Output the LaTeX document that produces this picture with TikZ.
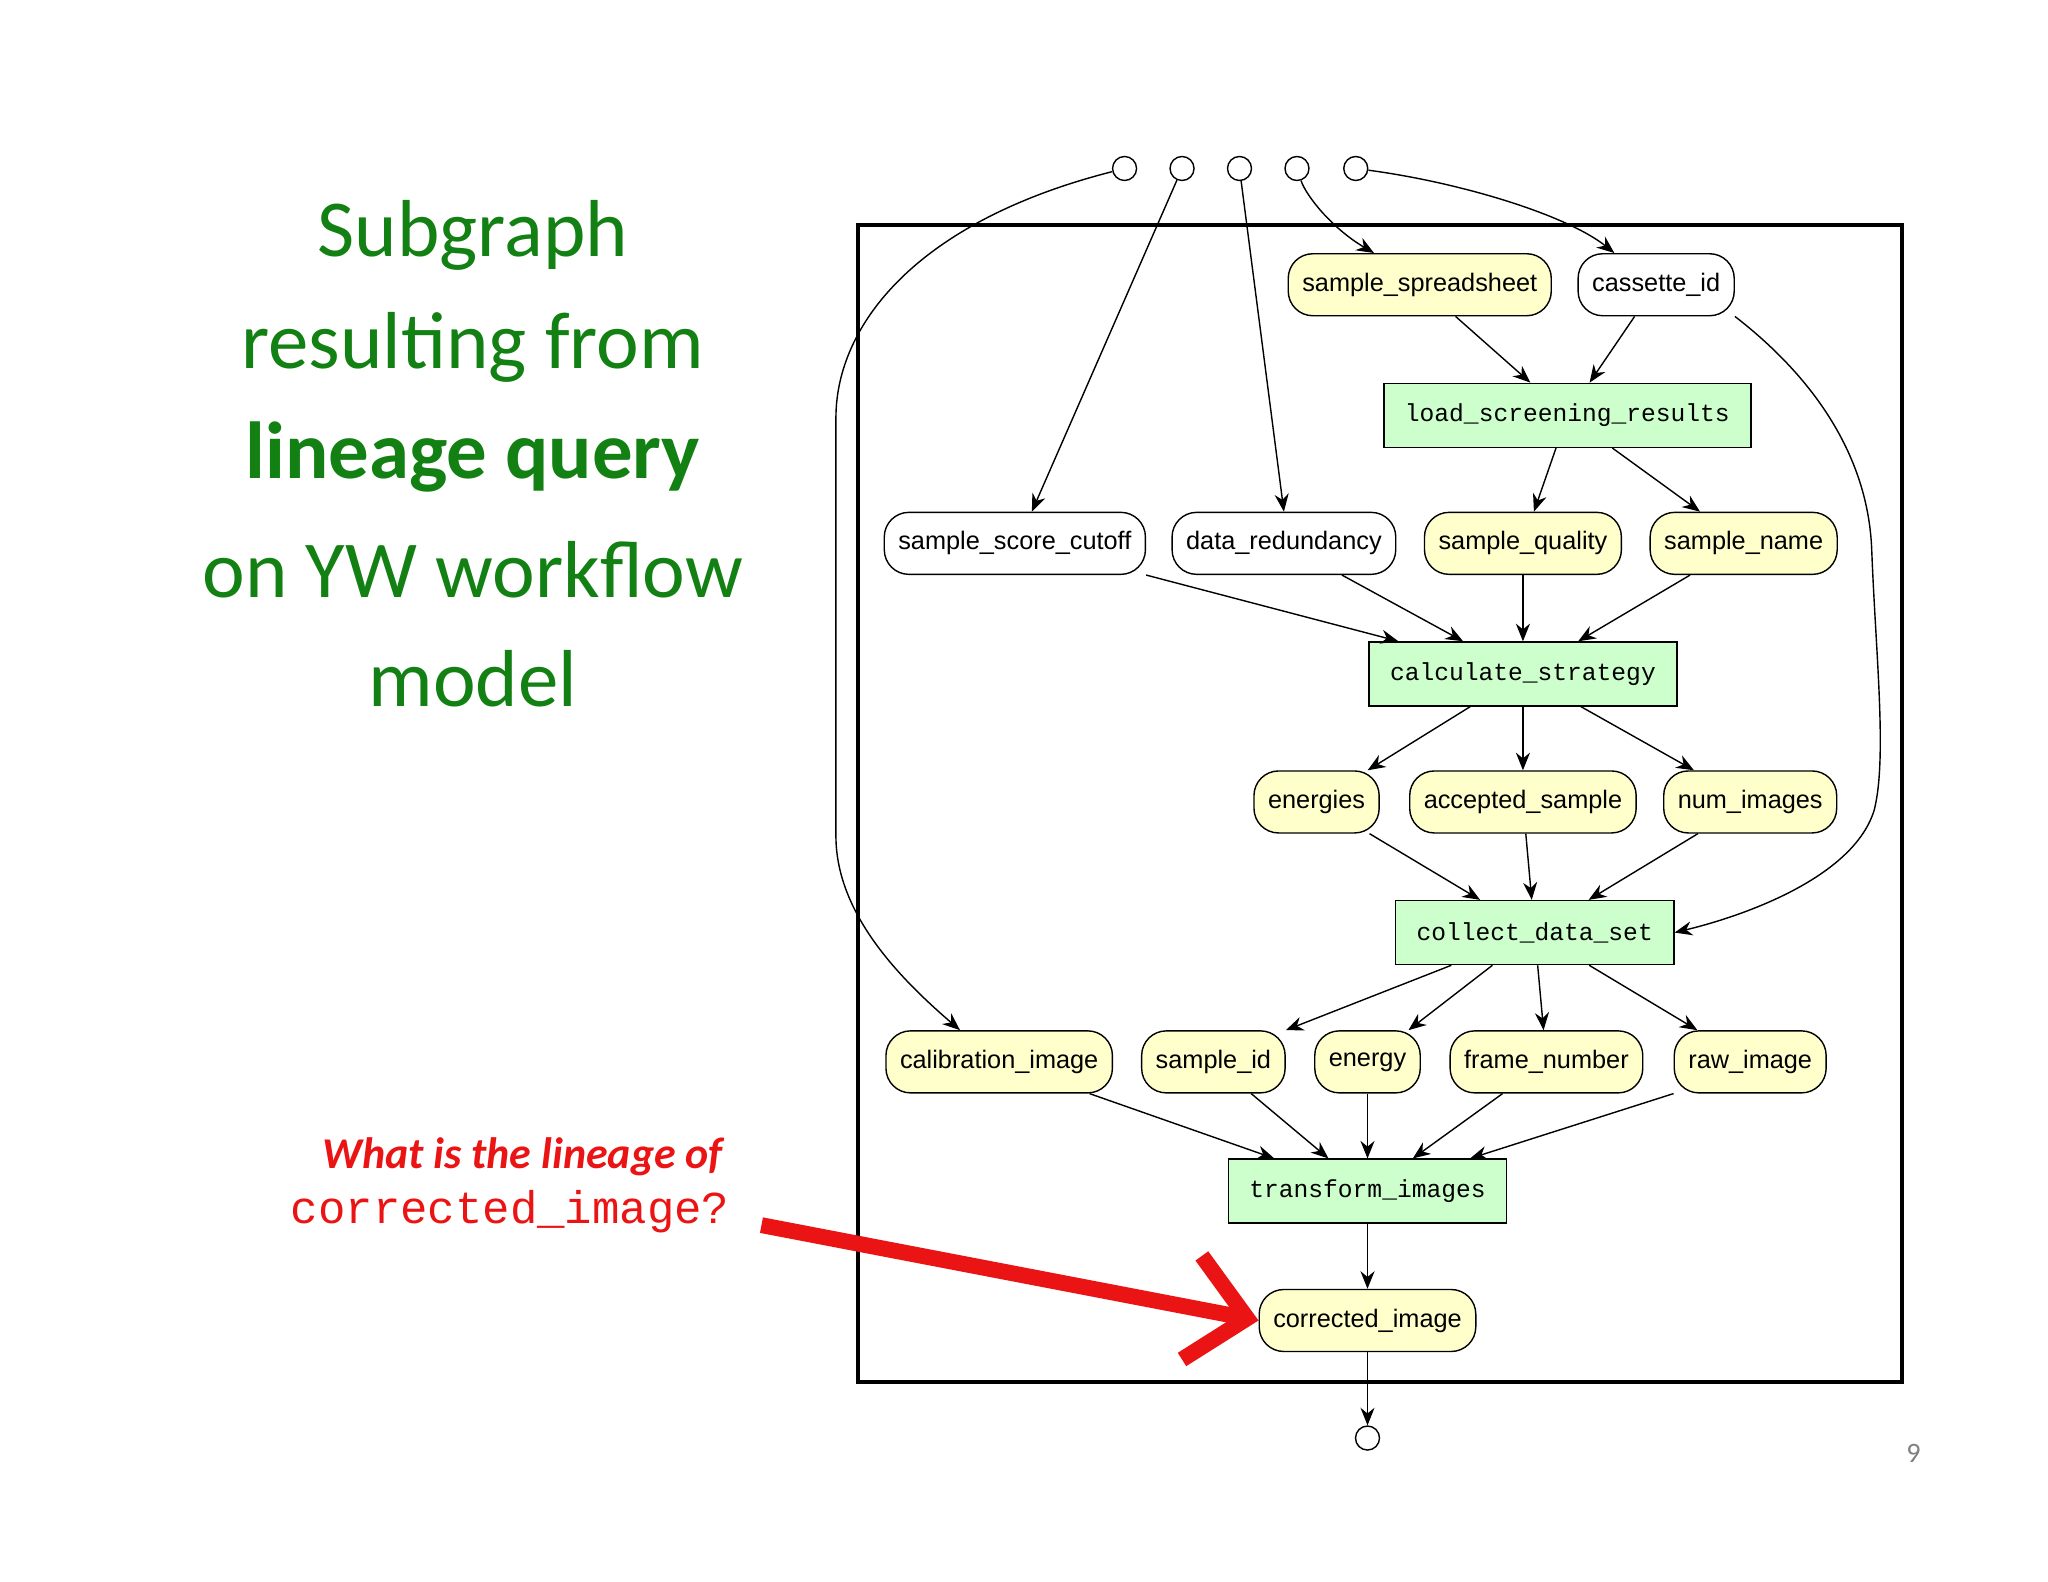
\documentclass[tikz,border=0pt]{standalone}
\usepackage{fontspec}
\setmainfont{Carlito}
\newfontfamily\helv{Liberation Sans}
\newfontfamily\cour{Liberation Mono}
\usetikzlibrary{arrows.meta}
\definecolor{titlegreen}{RGB}{18,128,18}
\definecolor{datafill}{RGB}{255,255,204}
\definecolor{procfill}{RGB}{204,255,204}
\definecolor{qred}{RGB}{235,20,20}
\begin{document}
\begin{tikzpicture}[x=0.01306cm, y=-0.01306cm, >={Stealth[length=5pt,width=4pt]}, thin,
  data/.style={draw, rounded corners=7pt, fill=datafill, minimum height=0.62cm, inner xsep=4pt, font=\helv\fontsize{7.2}{8}\selectfont},
  param/.style={data, fill=white},
  proc/.style={draw, fill=procfill, minimum height=0.64cm, inner xsep=6pt, font=\cour\fontsize{7}{8}\selectfont},
  port/.style={draw, circle, fill=white, minimum size=0.24cm, inner sep=0pt},
  ttl/.style={text=titlegreen, font=\fontsize{23}{26}\selectfont}]
\useasboundingbox (0,0) rectangle (1568,1211);
% title
\node[ttl] (t1) at (362,180) {Subgraph};
\node[ttl] (t2) at (362,266) {resulting from};
\node[ttl, font=\fontsize{23}{26}\selectfont\bfseries] (t3) at (362,350) {lineage query};
\node[ttl] (t4) at (362,436) {on YW workflow};
\node[ttl] (t5) at (362,520) {model};
\node[text=qred, font=\fontsize{12.5}{14}\selectfont\bfseries\itshape] (q1) at (400,886) {What is the lineage of};
\node[text=qred, font=\cour\fontsize{13}{14}\selectfont, anchor=east] (q2) at (568,928) {corrected\_image?};
\node[text=gray, font=\fontsize{8}{9}\selectfont] (pg) at (1465,1113) {9};
% frame
\draw[line width=1.2pt] (657,172) rectangle (1456,1058);
% ports
\node[port] (c1) at (861,129) {};
\node[port] (c2) at (905,129) {};
\node[port] (c3) at (949,129) {};
\node[port] (c4) at (993,129) {};
\node[port] (c5) at (1038,129) {};
\node[port] (cout) at (1047,1101) {};
% nodes
\node[data] (ss) at (1087,218) {sample\_spreadsheet};
\node[param] (cid) at (1268,218) {cassette\_id};
\node[proc] (lsr) at (1200,318) {load\_screening\_results};
\node[param] (ssc) at (777,416) {sample\_score\_cutoff};
\node[param] (dr) at (983,416) {data\_redundancy};
\node[data] (sq) at (1166,416) {sample\_quality};
\node[data] (sn) at (1335,416) {sample\_name};
\node[proc] (cs) at (1166,516) {calculate\_strategy};
\node[data] (en) at (1008,614) {energies};
\node[data] (as) at (1166,614) {accepted\_sample};
\node[data] (ni) at (1340,614) {num\_images};
\node[proc] (cds) at (1175,714) {collect\_data\_set};
\node[data] (ci) at (765,813) {calibration\_image};
\node[data] (sid) at (929,813) {sample\_id};
\node[data] (ey) at (1047,813) {energy};
\node[data] (fn) at (1184,813) {frame\_number};
\node[data] (ri) at (1340,813) {raw\_image};
\node[proc] (ti) at (1047,912) {transform\_images};
\node[data] (co) at (1047,1011) {corrected\_image};
% edges
\draw[->] (c1) .. controls (700,170) and (640,250) .. (640,320) -- (640,640) .. controls (640,700) and (690,750) .. (ci.north west -| 735,800);
\draw[->] (c2) -- (ssc.north east -| 790,400);
\draw[->] (c3) -- (dr.north);
\draw[->] (c4) .. controls (1000,150) and (1020,175) .. (ss.north west -| 1052,200);
\draw[->] (c5) .. controls (1120,140) and (1200,165) .. (cid.north west -| 1236,200);
\draw[->] (ss) -- (lsr);
\draw[->] (cid) -- (lsr);
\draw[->] (cid.south east) .. controls (1390,290) and (1430,350) .. (1433,420) .. controls (1436,500) and (1445,580) .. (1435,620) .. controls (1420,670) and (1340,700) .. (cds.east);
\draw[->] (lsr) -- (sq);
\draw[->] (lsr) -- (sn);
\draw[->] (ssc.south east) -- (cs);
\draw[->] (dr) -- (cs);
\draw[->] (sq) -- (cs);
\draw[->] (sn) -- (cs);
\draw[->] (cs) -- (en);
\draw[->] (cs) -- (as);
\draw[->] (cs) -- (ni);
\draw[->] (en) -- (cds);
\draw[->] (as) -- (cds);
\draw[->] (ni) -- (cds);
\draw[->] (cds) -- (sid.north east);
\draw[->] (cds) -- (ey);
\draw[->] (cds) -- (fn);
\draw[->] (cds) -- (ri);
\draw[->] (ci) -- (ti);
\draw[->] (sid) -- (ti);
\draw[->] (ey) -- (ti);
\draw[->] (fn) -- (ti);
\draw[->] (ri.south west) -- (ti);
\draw[->] (ti) -- (co);
\draw[->] (co) -- (cout);
% red pointer
\draw[qred, line width=4.5pt, -{Straight Barb[length=16pt,width=30pt]}] (q2.east |- 0,938) ++(15,0) -- (co.west);
\end{tikzpicture}
\end{document}
